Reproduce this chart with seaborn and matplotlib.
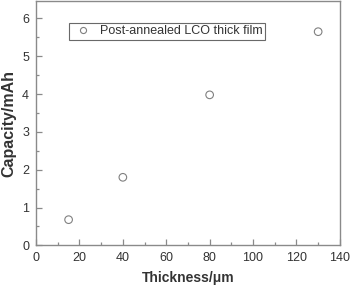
import pandas as pd
import matplotlib
matplotlib.use("Agg")
import matplotlib.pyplot as plt
import seaborn as sns
from matplotlib.ticker import MultipleLocator

# valores
espessura = [15, 40, 80, 130]
capacidade = [0.68, 1.80, 3.98, 5.65]
serie = "Post-annealed LCO thick film"

df = pd.DataFrame({"Thickness": espessura, "Capacity": capacidade, "serie": serie})

sns.set_style("white")
plt.rcParams["font.family"] = ["Liberation Sans", "DejaVu Sans"]

cinza = "#8a8a8a"
texto = "#333333"

fig = plt.figure(figsize=(3.5, 2.86), dpi=100)
ax = fig.add_axes([0.103, 0.142, 0.868, 0.853])

sns.scatterplot(data=df, x="Thickness", y="Capacity", hue="serie",
                palette=["none"], edgecolor="#808080", linewidth=0.8,
                s=30, marker="o", ax=ax)

ax.set_xlim(0, 140)
ax.set_ylim(0, 6.45)
ax.xaxis.set_major_locator(MultipleLocator(20))
ax.xaxis.set_minor_locator(MultipleLocator(10))
ax.yaxis.set_major_locator(MultipleLocator(1))
ax.yaxis.set_minor_locator(MultipleLocator(0.5))
ax.tick_params(which="both", direction="in", bottom=True, left=True,
               color=cinza, labelcolor=texto, labelsize=9, width=0.9, pad=5)
ax.tick_params(which="major", length=4)
ax.tick_params(which="minor", length=2)
for s in ax.spines.values():
    s.set_color(cinza)
    s.set_linewidth(1.0)

ax.set_xlabel("Thickness/μm", fontsize=10, fontweight="bold", color=texto, labelpad=5)
ax.set_ylabel("Capacity/mAh", fontsize=11.5, fontweight="bold", color=texto, labelpad=4)

leg = ax.legend(loc="upper left", bbox_to_anchor=(0.108, 0.912), borderaxespad=0,
                fontsize=9, frameon=True, fancybox=False, handletextpad=0.4,
                borderpad=0.2, handlelength=1.9, markerscale=0.8, labelcolor=texto)
leg.get_frame().set_edgecolor("#444444")
leg.get_frame().set_linewidth(0.8)
for h in leg.legend_handles:
    h.set_markerfacecolor("none")
    h.set_markeredgecolor("#808080")

fig.savefig("out.png", dpi=100)
